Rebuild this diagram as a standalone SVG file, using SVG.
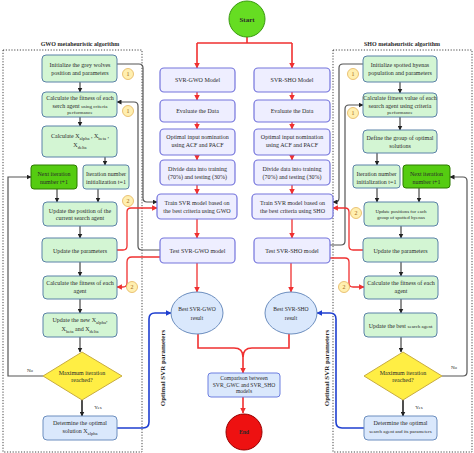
<svg xmlns="http://www.w3.org/2000/svg" width="474" height="453" viewBox="0 0 474 453">
<style>
text{font-family:"Liberation Serif","Times New Roman",serif;font-size:6px;fill:#2a2a2a;text-anchor:middle}
.g{fill:#d3f5d3;stroke:#5b82a8;stroke-width:1}
.ng{fill:#55cc11;stroke:#2d7a00;stroke-width:1}
.m{fill:#eeeeff;stroke:#7474dc;stroke-width:1.2}
.b{fill:#dae8fc;stroke:#6c8ebf;stroke-width:1}
.d{fill:#ffee44;stroke:#c8ac40;stroke-width:1}
.bd circle{fill:#ffefb0;stroke:#e4b45a;stroke-width:0.8}
.bd text{fill:#a86a1c;font-size:6px}
.pan{fill:none;stroke:#444;stroke-width:1;stroke-dasharray:1.2,1.6}
.k{fill:none;stroke:#222;stroke-width:1}
.gr{fill:none;stroke:#555;stroke-width:1.2}
.r{fill:none;stroke:#f03030;stroke-width:1.3}
.bl{fill:none;stroke:#1f3fd0;stroke-width:1.6}
.t{font-weight:bold}
.s{font-size:5px}
.sub{font-size:4.6px}
</style>
<defs>
<marker id="ak" viewBox="0 0 10 10" refX="9" refY="5" markerWidth="5" markerHeight="5" markerUnits="userSpaceOnUse" orient="auto"><path d="M0,0 L10,5 L0,10 z" fill="#222"/></marker>
<marker id="ar" viewBox="0 0 10 10" refX="9" refY="5" markerWidth="5.5" markerHeight="5.5" markerUnits="userSpaceOnUse" orient="auto"><path d="M0,0 L10,5 L0,10 z" fill="#f03030"/></marker>
<marker id="ab" viewBox="0 0 10 10" refX="9" refY="5" markerWidth="6" markerHeight="6" markerUnits="userSpaceOnUse" orient="auto"><path d="M0,0 L10,5 L0,10 z" fill="#1f3fd0"/></marker>
</defs>
<rect width="474" height="453" fill="#ffffff"/>

<!-- panels -->
<g id="panels">
<rect class="pan" x="3" y="50" width="139" height="402"/>
<rect class="pan" x="333" y="50" width="139" height="402"/>
<text class="t" x="80" y="45.5">GWO metaheuristic algorithm</text>
<text class="t" x="402" y="45.5">SHO metaheuristic algorithm</text>
<text class="t" transform="translate(164.5,368) rotate(-90)" style="font-size:7px">Optimal SVR parameters</text>
<text class="t" transform="translate(329,368) rotate(-90)" style="font-size:7px">Optimal SVR parameters</text>
</g>

<g id="connectors">
<!-- left column -->
<path class="k" d="M80,82 V92" marker-end="url(#ak)"/>
<path class="k" d="M80,117 V126" marker-end="url(#ak)"/>
<path class="k" d="M105,157 V165" marker-end="url(#ak)"/>
<path class="k" d="M57,189 V202" marker-end="url(#ak)"/>
<path class="k" d="M98,189 V202" marker-end="url(#ak)"/>
<path class="k" d="M80,226 V238" marker-end="url(#ak)"/>
<path class="k" d="M80,262 V276" marker-end="url(#ak)"/>
<path class="k" d="M80,299 V313" marker-end="url(#ak)"/>
<path class="k" d="M80,337 V352" marker-end="url(#ak)"/>
<path class="k" style="stroke-width:1.6" d="M82,400 V416" marker-end="url(#ak)"/>
<path class="gr" d="M43,376 H8 V177 H31" marker-end="url(#ak)"/>
<path class="gr" d="M117,64 H139 Q143,64 143,68 V198 Q143,202 147,202 H157" marker-end="url(#ak)"/>
<path class="gr" d="M160,250 H142 Q138,250 138,246 V106 Q138,102 134,102 H117" marker-end="url(#ak)"/>
<path class="r" d="M117,250 H123 Q127,250 127,246 V212 Q127,208 131,208 H157" marker-end="url(#ar)"/>
<path class="r" d="M160,257 H132 Q127,257 127,262 V283 Q127,287 123,287 H117" marker-end="url(#ar)"/>
<!-- right column -->
<path class="k" d="M400,82 V93" marker-end="url(#ak)"/>
<path class="k" d="M400,117 V130" marker-end="url(#ak)"/>
<path class="k" d="M377,153 V165" marker-end="url(#ak)"/>
<path class="k" d="M377,188 V202" marker-end="url(#ak)"/>
<path class="k" d="M419,188 V202" marker-end="url(#ak)"/>
<path class="k" d="M401,226 V238" marker-end="url(#ak)"/>
<path class="k" d="M401,262 V276" marker-end="url(#ak)"/>
<path class="k" d="M401,299 V313" marker-end="url(#ak)"/>
<path class="k" d="M401,337 V352" marker-end="url(#ak)"/>
<path class="k" style="stroke-width:1.6" d="M403,400 V416" marker-end="url(#ak)"/>
<path class="gr" d="M442,376 H463 Q467,376 467,372 V181 Q467,177 463,177 H450" marker-end="url(#ak)"/>
<path class="gr" d="M363,64 H343 Q339,64 339,68 V198 Q339,202 335,202 H333" marker-end="url(#ak)"/>
<path class="gr" d="M330,245 H341 Q345,245 345,241 V109 Q345,105 349,105 H363" marker-end="url(#ak)"/>
<path class="r" d="M363,250 H353 Q349,250 349,246 V212 Q349,208 345,208 H333" marker-end="url(#ar)"/>
<path class="r" d="M330,258 H345 Q349,258 349,262 V283 Q349,287 353,287 H364" marker-end="url(#ar)"/>
<!-- middle -->
<path class="r" style="stroke-width:1.6" d="M247,37 V43 M197,43 H292"/>
<path class="r" style="stroke-width:1.6" d="M197,43 V68" marker-end="url(#ar)"/>
<path class="r" style="stroke-width:1.6" d="M292,43 V68" marker-end="url(#ar)"/>
<path class="r" d="M197,92 V100" marker-end="url(#ar)"/>
<path class="r" d="M197,122 V129" marker-end="url(#ar)"/>
<path class="r" d="M197,155 V160" marker-end="url(#ar)"/>
<path class="r" d="M197,185 V194" marker-end="url(#ar)"/>
<path class="r" d="M197,219 V238" marker-end="url(#ar)"/>
<path class="r" d="M197,263 V292" marker-end="url(#ar)"/>
<path class="r" d="M292,92 V100" marker-end="url(#ar)"/>
<path class="r" d="M292,122 V129" marker-end="url(#ar)"/>
<path class="r" d="M292,155 V160" marker-end="url(#ar)"/>
<path class="r" d="M292,185 V194" marker-end="url(#ar)"/>
<path class="r" d="M292,219 V238" marker-end="url(#ar)"/>
<path class="r" d="M291,263 V292" marker-end="url(#ar)"/>
<path class="r" style="stroke-width:1.6" d="M198,334 V348 H234 Q243,348 243,357 V373" marker-end="url(#ar)"/>
<path class="r" style="stroke-width:1.6" d="M289,334 V348 H252 Q243,348 243,357"/>
<path class="r" style="stroke-width:1.6" d="M243,397 V413" marker-end="url(#ar)"/>
<path class="bl" d="M117,428 H143 Q149,428 149,422 V319 Q149,313 155,313 H171" marker-end="url(#ab)"/>
<path class="bl" d="M364,428 H342 Q336,428 336,422 V319 Q336,313 330,313 H317" marker-end="url(#ab)"/>
</g>

<!-- left nodes -->
<g id="gwo-init"><rect class="g" x="42" y="55" width="75" height="27" rx="4"/><text x="80" y="67">Initialize the grey wolves</text><text x="80" y="74.5">position and parameters</text></g>
<g id="gwo-fit"><rect class="g" x="42" y="92" width="75" height="25" rx="4"/><text x="80" y="99.5">Calculate the fitness of each</text><text x="80" y="107.5">serch agent <tspan class="s">using criteria</tspan></text><text class="s" x="80" y="114">performance</text></g>
<g id="gwo-calcx"><rect class="g" x="42" y="126" width="75" height="31" rx="4"/><text x="80" y="138">Calculate X<tspan class="sub" dy="1.5">alpha</tspan><tspan dy="-1.5"> , X</tspan><tspan class="sub" dy="1.5">beta</tspan><tspan dy="-1.5"> ,</tspan></text><text x="80" y="147">X<tspan class="sub" dy="1.5">delta</tspan></text></g>
<g id="gwo-next"><rect class="ng" x="31" y="165" width="46" height="24" rx="3"/><text x="54" y="176">Next iteration</text><text x="54" y="184">number t+1</text></g>
<g id="gwo-iter"><rect class="g" x="83" y="165" width="46" height="24" rx="3"/><text x="106" y="176">Iteration number</text><text x="106" y="184">initialization t=1</text></g>
<g id="gwo-updpos"><rect class="g" x="43" y="202" width="74" height="24" rx="4"/><text x="80" y="213">Update the position of the</text><text x="80" y="220">current search agent</text></g>
<g id="gwo-updpar"><rect class="g" x="42" y="238" width="75" height="24" rx="4"/><text x="80" y="252.5">Update the parameters</text></g>
<g id="gwo-fit2"><rect class="g" x="43" y="276" width="74" height="23" rx="4"/><text x="80" y="285">Calculate the fitness of each</text><text x="80" y="293">agent</text></g>
<g id="gwo-updnew"><rect class="g" x="43" y="313" width="74" height="24" rx="4"/><text x="80" y="322">Update the new  X<tspan class="sub" dy="1.5">alpha</tspan><tspan dy="-1.5">,</tspan></text><text x="80" y="331">X<tspan class="sub" dy="1.5">beta</tspan><tspan dy="-1.5"> and X</tspan><tspan class="sub" dy="1.5">delta</tspan></text></g>
<g id="gwo-max"><path class="d" d="M82,352 L122,376 L82,400 L43,376 Z"/><text x="82" y="375">Maximum iteration</text><text x="82" y="381.5">reached?</text></g>
<g id="gwo-det"><rect class="b" x="43" y="416" width="74" height="24" rx="4"/><text x="80" y="425">Determine the optimal</text><text x="80" y="433">solution X<tspan class="sub" dy="1.5">alpha</tspan></text></g>
<g id="gwo-labels"><text x="30" y="372" class="s">No</text><text x="98" y="409" class="s">Yes</text></g>

<!-- middle nodes -->
<g id="start"><circle cx="247" cy="19" r="18" fill="#66dd22" stroke="#3a9a10" stroke-width="1"/><text class="t" x="247" y="21.5" style="font-size:7px">Start</text></g>
<g id="svr-gwo"><rect class="m" x="160" y="68" width="75" height="24" rx="4"/><text x="197.5" y="82">SVR-GWO Model</text></g>
<g id="svr-sho"><rect class="m" x="254" y="68" width="76" height="24" rx="4"/><text x="292" y="82">SVR-SHO Model</text></g>
<g id="eval-gwo"><rect class="m" x="160" y="100" width="75" height="22" rx="4"/><text x="197.5" y="113">Evaluate the Data</text></g>
<g id="eval-sho"><rect class="m" x="254" y="100" width="76" height="22" rx="4"/><text x="292" y="113">Evaluate the Data</text></g>
<g id="opt-gwo"><rect class="m" x="160" y="129" width="75" height="26" rx="4"/><text x="197.5" y="139">Optimal input nomination</text><text x="197.5" y="147">using ACF and PACF</text></g>
<g id="opt-sho"><rect class="m" x="254" y="129" width="76" height="26" rx="4"/><text x="292" y="139">Optimal input nomination</text><text x="292" y="147">using ACF and PACF</text></g>
<g id="div-gwo"><rect class="m" x="160" y="160" width="75" height="25" rx="4"/><text x="197.5" y="171">Divide data into training</text><text x="197.5" y="179">(70%) and testing (30%)</text></g>
<g id="div-sho"><rect class="m" x="254" y="160" width="76" height="25" rx="4"/><text x="292" y="171">Divide data into training</text><text x="292" y="179">(70%) and testing (30%)</text></g>
<g id="train-gwo"><rect class="m" x="157" y="194" width="80" height="25" rx="4"/><text x="197" y="205">Train SVR model based on</text><text x="197" y="213">the best criteria using GWO</text></g>
<g id="train-sho"><rect class="m" x="252" y="194" width="81" height="25" rx="4"/><text x="292.5" y="205">Train SVR model based on</text><text x="292.5" y="213">the best criteria using SHO</text></g>
<g id="test-gwo"><rect class="m" x="160" y="238" width="75" height="25" rx="4"/><text x="197.5" y="252.5">Test SVR-GWO model</text></g>
<g id="test-sho"><rect class="m" x="254" y="238" width="76" height="25" rx="4"/><text x="292" y="252.5">Test SVR-SHO model</text></g>
<g id="best-gwo"><ellipse class="b" cx="197" cy="313" rx="26" ry="21"/><text x="197" y="311" style="font-size:5.6px">Best SVR-GWO</text><text x="197" y="319.5" style="font-size:5.6px">result</text></g>
<g id="best-sho"><ellipse class="b" cx="291" cy="313" rx="26" ry="21"/><text x="291" y="311" style="font-size:5.6px">Best SVR-SHO</text><text x="291" y="319.5" style="font-size:5.6px">result</text></g>
<g id="compare"><rect x="208" y="373" width="72" height="24" rx="3" fill="#dae8fc" stroke="#6c7ee0" stroke-width="1"/><text x="244" y="380" style="font-size:5.6px">Comparison between</text><text x="244" y="386.5" style="font-size:5.6px">SVR_GWC and SVR_SHO</text><text x="244" y="393" style="font-size:5.6px">models</text></g>
<g id="end"><circle cx="244" cy="432" r="18" fill="#ee1111" stroke="#990000" stroke-width="1"/><text class="t" x="244" y="434" style="font-size:5.6px">End</text></g>

<!-- right nodes -->
<g id="sho-init"><rect class="g" x="363" y="56" width="74" height="26" rx="4"/><text x="400" y="66.5">Initialize spotted hyenas</text><text x="400" y="74.5">population and parameters</text></g>
<g id="sho-fit"><rect class="g" x="363" y="93" width="74" height="24" rx="4"/><text x="400" y="99.5">Calculate fitness value of each</text><text x="400" y="107.5">search agent using criteria</text><text class="s" x="400" y="114">performance</text></g>
<g id="sho-def"><rect class="g" x="363" y="130" width="74" height="23" rx="4"/><text x="400" y="140">Define the group of optimal</text><text x="400" y="148">solutions</text></g>
<g id="sho-iter"><rect class="g" x="353" y="165" width="47" height="23" rx="3"/><text x="376.5" y="175.5">Iteration number</text><text x="376.5" y="183.5">initialization t=1</text></g>
<g id="sho-next"><rect class="ng" x="403" y="165" width="47" height="23" rx="3"/><text x="426.5" y="175.5">Next iteration</text><text x="426.5" y="183.5">number t+1</text></g>
<g id="sho-updpos"><rect class="g" x="364" y="202" width="74" height="24" rx="4"/><text class="s" x="401" y="212.5">Update positions for each</text><text class="s" x="401" y="219">group of spotted hyenas</text></g>
<g id="sho-updpar"><rect class="g" x="363" y="238" width="75" height="24" rx="4"/><text x="400.5" y="252.5">Update the parameters</text></g>
<g id="sho-fit2"><rect class="g" x="364" y="276" width="74" height="23" rx="4"/><text x="401" y="285">Calculate the fitness of each</text><text x="401" y="293">agent</text></g>
<g id="sho-best"><rect class="g" x="364" y="313" width="73" height="24" rx="4"/><text x="400.5" y="327.5">Update the best <tspan class="s">search agent</tspan></text></g>
<g id="sho-max"><path class="d" d="M403,352 L442,376 L403,400 L364,376 Z"/><text x="403" y="375">Maximum iteration</text><text x="403" y="381.5">reached?</text></g>
<g id="sho-det"><rect class="b" x="364" y="416" width="73" height="24" rx="4"/><text x="400.5" y="425">Determine the optimal</text><text class="s" x="400.5" y="433">search agent and its parameters</text></g>
<g id="sho-labels"><text x="454" y="369" class="s">No</text><text x="419" y="409" class="s">Yes</text></g>

<!-- badges -->
<g id="badges" class="bd">
<circle cx="128" cy="74" r="5.5"/><text x="128" y="76">1</text>
<circle cx="128" cy="111" r="5.5"/><text x="128" y="113">1</text>
<circle cx="128" cy="201" r="5.5"/><text x="128" y="203">2</text>
<circle cx="132" cy="287" r="5.5"/><text x="132" y="289">2</text>
<circle cx="353" cy="74" r="5.5"/><text x="353" y="76">1</text>
<circle cx="353" cy="113" r="5.5"/><text x="353" y="115">1</text>
<circle cx="356" cy="213" r="5.5"/><text x="356" y="215">2</text>
<circle cx="344" cy="287" r="5.5"/><text x="344" y="289">2</text>
</g>
</svg>
